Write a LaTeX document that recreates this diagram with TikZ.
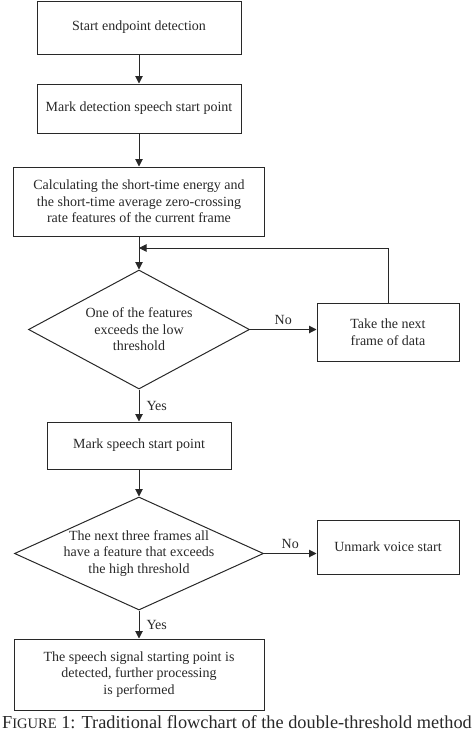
\documentclass[tikz,border=0pt]{standalone}
\usepackage{fontspec}
\setmainfont{Liberation Serif}
\usetikzlibrary{arrows.meta,shapes.geometric,calc}
\definecolor{linegray}{RGB}{40,40,40}

\begin{document}
\begin{tikzpicture}[x=1pt, y=-1pt, >={Triangle[length=7.5pt,width=7.5pt]},
    line width=1pt,
    every node/.style={font=\fontsize{14}{16.6}\selectfont, text=linegray},
    box/.style={draw=linegray, rectangle, align=center, inner sep=0pt},
    decision/.style={draw=linegray, diamond, align=center, inner sep=-12pt},
    arr/.style={->, draw=linegray},
    lbl/.style={font=\fontsize{14}{16}\selectfont, inner sep=1pt}]
  \useasboundingbox (0,0) rectangle (474,736);
  \node[box, minimum width=204pt, minimum height=53pt] (start) at (139,27.5) {Start endpoint detection};
  \node[box, minimum width=204pt, minimum height=49pt] (markdet) at (139,108.5) {Mark detection speech start point};
  \node[box, minimum width=251pt, minimum height=69pt] (calc) at (139,201.5)
    {Calculating the short-time energy and\\the short-time average zero-crossing\\rate features of the current frame};
  \node[decision, aspect=1.86, minimum width=221pt, minimum height=119pt] (lowthr) at (139,329.5)
    {One of the features\\exceeds the low\\threshold};
  \node[box, minimum width=142pt, minimum height=58pt] (nextframe) at (388,332) {Take the next\\frame of data};
  \node[box, minimum width=184pt, minimum height=47pt] (markstart) at (139,445.5) {Mark speech start point};
  \node[decision, aspect=2.2, minimum width=249pt, minimum height=113pt] (highthr) at (139,553.5)
    {The next three frames all\\have a feature that exceeds\\the high threshold};
  \node[box, minimum width=142pt, minimum height=54pt] (unmark) at (388,547) {Unmark voice start};
  \node[box, minimum width=250pt, minimum height=71pt] (detected) at (139,674.5)
    {The speech signal starting point is\\detected, further processing\\is performed};
  \coordinate (loop) at (139,248);

  \draw[arr] (start) -- (markdet);
  \draw[arr] (markdet) -- (calc);
  \draw[arr] (calc) -- (lowthr);
  \draw[arr] (lowthr.east) -- (lowthr.east -| nextframe.west) node[lbl, midway, above=3pt] {No};
  \draw[arr] (nextframe.north) |- (loop);
  \draw[arr] (lowthr) -- (markstart) node[lbl, midway, right=6pt] {Yes};
  \draw[arr] (markstart) -- (highthr);
  \draw[arr] (highthr.east) -- (highthr.east -| unmark.west) node[lbl, midway, above=3pt] {No};
  \draw[arr] (highthr) -- (detected) node[lbl, midway, right=6pt] {Yes};

  \node[font=\fontsize{18.3}{20}\selectfont, anchor=base, inner sep=0pt] (caption) at (237,728)
    {F{\fontsize{14.5}{16}\selectfont IGURE} 1: Traditional flowchart of the double-threshold method};
\end{tikzpicture}
\end{document}
